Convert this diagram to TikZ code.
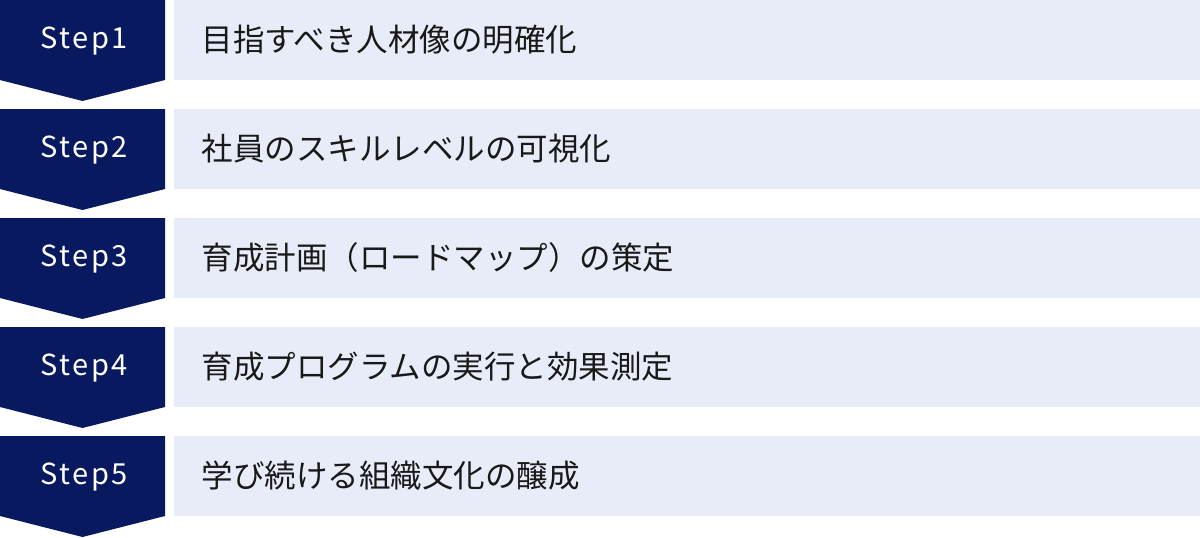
\documentclass[tikz,border=0pt]{standalone}
\usepackage{fontspec}
\newfontfamily\jpfont{Noto Sans CJK JP}
\newfontfamily\stepfont[LetterSpace=9]{Noto Sans CJK JP}
\definecolor{navy}{RGB}{8,25,96}
\definecolor{lightbg}{RGB}{231,236,248}
\begin{document}
\begin{tikzpicture}[x=1pt,y=-1pt,
  stepchev/.style={fill=navy,draw=none},
  steptext/.style={text=white,font=\stepfont\fontsize{29}{32}\selectfont,anchor=center,inner sep=0pt},
  itembox/.style={fill=lightbg,draw=none,minimum width=1026pt,minimum height=80pt,inner sep=0pt,anchor=north west},
  itemtext/.style={text=black!90,font=\jpfont\fontsize{31.5}{34}\selectfont,anchor=west,inner sep=0pt}]
\useasboundingbox (0,0) rectangle (1200,538);
\foreach \i/\t in {1/目指すべき人材像の明確化,2/社員のスキルレベルの可視化,3/育成計画（ロードマップ）の策定,4/育成プログラムの実行と効果測定,5/学び続ける組織文化の醸成}{
  \pgfmathsetmacro{\y}{(\i-1)*109}
  \fill[stepchev] (0,\y) -- (165,\y) -- (165,\y+80) -- (82.5,\y+101) -- (0,\y+80) -- cycle;
  \node[steptext] (s\i) at (84,\y+41) {Step\i};
  \node[itembox] (b\i) at (174,\y) {};
  \node[itemtext] (t\i) at (201.5,\y+40) {\t};
}
\end{tikzpicture}
\end{document}
